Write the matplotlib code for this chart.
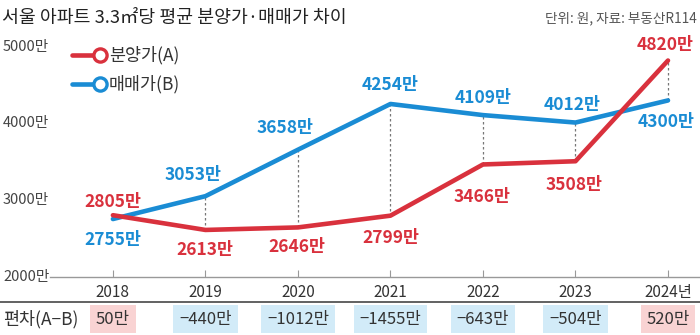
import numpy as np
import matplotlib
matplotlib.use("Agg")
from matplotlib import pyplot as plt
from matplotlib import transforms
from matplotlib.lines import Line2D

plt.rcParams['font.family'] = ['Noto Sans CJK KR', 'DejaVu Sans']

# data (만원)
years = ["2018", "2019", "2020", "2021", "2022", "2023", "2024년"]
presale = [2805, 2613, 2646, 2799, 3466, 3508, 4820]   # 분양가(A)
resale = [2755, 3053, 3658, 4254, 4109, 4012, 4300]    # 매매가(B)
diff = [50, -440, -1012, -1455, -643, -504, 520]
yticks = [2000, 3000, 4000, 5000]

RED = "#d9313d"
BLUE = "#1a8cd4"
TXT = "#333333"

# label offsets in pixels (dx, dy)
red_off = [(0, 13), (-1, -20), (-1, -20), (0, -22), (-1, -33), (-1, -24), (-3, 16)]
blue_off = [(0, -21), (-12, 21), (-13, 22), (0, 19), (0, 17), (-3, 18), (-2, -22)]

fig = plt.figure(figsize=(7, 3.35), dpi=100)
ax = fig.add_axes([50 / 700, 58 / 335, 650 / 700, 261 / 335])
x = np.arange(len(years))
ax.set_xlim(-0.68, 6.346)
ax.set_ylim(2000, 5400)

for s in ["top", "right", "left"]:
    ax.spines[s].set_visible(False)
ax.spines["bottom"].set_color("#999999")
ax.spines["bottom"].set_linewidth(1)
ax.set_yticks([])
ax.set_xticks(x)
ax.set_xticklabels(years, fontsize=11, color=TXT)
ax.tick_params(axis="x", direction="in", length=5, color="#999999", pad=5)

# y labels at the far left
tr = transforms.blended_transform_factory(fig.transFigure, ax.transData)
for v in yticks:
    ax.text(3 / 700, v, f"{v}만", transform=tr, ha="left", va="center",
            fontsize=10.5, color="#444444", clip_on=False)

# dashed connectors
lo = np.minimum(presale, resale)
hi = np.maximum(presale, resale)
ax.vlines(x[1:], lo[1:], hi[1:], colors="#777777", linestyles=(0, (2, 2)), linewidth=0.9, zorder=1)

ax.plot(x, resale, color=BLUE, lw=3.3, solid_capstyle="round", solid_joinstyle="round", zorder=3)
ax.plot(x, presale, color=RED, lw=3.3, solid_capstyle="round", solid_joinstyle="round", zorder=4)

for i in range(len(x)):
    ax.annotate(f"{presale[i]}만", (x[i], presale[i]),
                xytext=(red_off[i][0] * 0.72, red_off[i][1] * 0.72), textcoords="offset points",
                ha="center", va="center", fontsize=12.5, fontweight="bold", color=RED, zorder=5)
    ax.annotate(f"{resale[i]}만", (x[i], resale[i]),
                xytext=(blue_off[i][0] * 0.72, blue_off[i][1] * 0.72), textcoords="offset points",
                ha="center", va="center", fontsize=12.5, fontweight="bold", color=BLUE, zorder=5)

# legend
for yy, c, lab in [(55, RED, "분양가(A)"), (84, BLUE, "매매가(B)")]:
    fy = (335 - yy) / 335
    fig.add_artist(Line2D([72 / 700, 96 / 700], [fy, fy], color=c, lw=3.3, solid_capstyle="round"))
    fig.add_artist(Line2D([100 / 700], [fy], marker="o", markersize=9.5, markerfacecolor="white",
                          markeredgecolor=c, markeredgewidth=2.4))
    fig.text(109 / 700, fy, lab, ha="left", va="center", fontsize=12.5, color=TXT)

# title
fig.text(2 / 700, 0.945, "서울 아파트 3.3㎡당 평균 분양가·매매가 차이", ha="left", va="center",
         fontsize=13.2, color="#222222")
fig.text(697 / 700, 0.945, "단위: 원, 자료: 부동산R114", ha="right", va="center",
         fontsize=9.8, color="#555555")

# bottom table
fig.add_artist(Line2D([0, 1], [33 / 335, 33 / 335], color="#555555", lw=1.3))
fig.text(3 / 700, (335 - 319) / 335, "편차(A−B)", ha="left", va="center", fontsize=12.5, color=TXT)
for i in range(len(x)):
    fc = "#f9d3d3" if diff[i] > 0 else "#d2ebf8"
    ax.text(x[i], -0.161, f"{diff[i]}만".replace("-", "−"), transform=ax.get_xaxis_transform(),
            ha="center", va="center", fontsize=12, color=TXT, clip_on=False,
            bbox=dict(boxstyle="square,pad=0.35", fc=fc, ec="none"))

fig.savefig("out.png", dpi=100)
